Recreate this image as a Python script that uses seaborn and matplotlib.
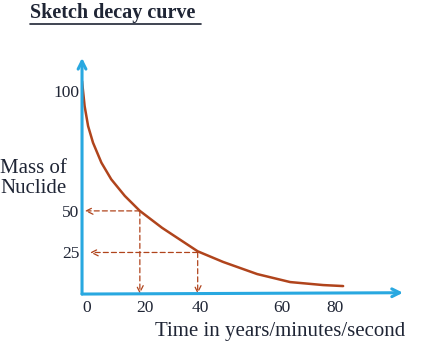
import matplotlib
matplotlib.use("Agg")
import matplotlib.pyplot as plt
from matplotlib.lines import Line2D
import pandas as pd
import seaborn as sns

# decay curve (time, remaining mass)
decay_time = [0, 0.9, 2.1, 3.8, 6.7, 10.1, 14.8, 20, 27.7, 40, 48.8, 60.6, 72, 83.4, 90.3]
decay_mass = [128, 113, 101, 91, 79, 69, 59, 50, 39.8, 25.7, 19.3, 12, 7.2, 5.4, 4.8]

# half-life read-offs
half_time = [20, 40]
half_mass = [50, 25]

x_tick_labels = ["0", "20", "40", "60", "80"]
y_tick_labels = ["25", "50", "100"]

title = "Sketch decay curve"
x_label = "Time in years/minutes/second"
y_label = "Mass of\nNuclide"

AXIS_BLUE = "#29a8e0"
CURVE_RED = "#b0441c"
TEXT_DARK = "#1f2535"

sns.set_theme(style="white")
plt.rcParams["font.family"] = ["Liberation Serif", "DejaVu Serif"]

df = pd.DataFrame({"time": decay_time, "mass": decay_mass})

fig = plt.figure(figsize=(4.25, 3.53), dpi=100)
ax = fig.add_axes([0.193, 0.167, 0.762, 0.669])

sns.lineplot(data=df, x="time", y="mass", ax=ax, color=CURVE_RED, lw=1.8,
             sort=False, legend=False)

# dashed read-off lines with arrows towards the axes
for t, m, stop in zip(half_time, half_mass, [1.0, 2.8]):
    ax.annotate("", xy=(stop, m), xytext=(t, m),
                arrowprops=dict(arrowstyle="->", color=CURVE_RED, lw=0.9,
                                ls=(0, (4, 2.5)), shrinkA=0, shrinkB=0))
    ax.annotate("", xy=(t, 0.2), xytext=(t, m),
                arrowprops=dict(arrowstyle="->", color=CURVE_RED, lw=0.9,
                                ls=(0, (4, 2.5)), shrinkA=0, shrinkB=0))

ax.set_xlim(0, 112)
ax.set_ylim(0, 142)

# axes drawn as arrows
ax.annotate("", xy=(111, 0.8), xytext=(0, 0),
            arrowprops=dict(arrowstyle="->", color=AXIS_BLUE, lw=2.2,
                            shrinkA=0, shrinkB=0, mutation_scale=14))
ax.annotate("", xy=(0, 142), xytext=(0, 0),
            arrowprops=dict(arrowstyle="->", color=AXIS_BLUE, lw=2.2,
                            shrinkA=0, shrinkB=0, mutation_scale=14))
for s in ax.spines.values():
    s.set_visible(False)
ax.patch.set_visible(False)

# the sketch spaces its tick labels unevenly
ax.set_xticks([1.7, 21.8, 41, 69, 87.5], x_tick_labels)
ax.set_yticks([25, 50, 122], y_tick_labels)
ax.tick_params(axis="x", length=0, pad=4, labelsize=12.5, labelcolor=TEXT_DARK)
ax.tick_params(axis="y", length=0, pad=2, labelsize=12.5, labelcolor=TEXT_DARK)
ax.set_xlabel("")
ax.set_ylabel("")
ax.grid(False)

fig.text(0.365, 0.06, x_label, fontsize=15, color=TEXT_DARK, va="center", ha="left")
fig.text(0.0, 0.495, y_label, fontsize=15, color=TEXT_DARK, va="center", ha="left",
         linespacing=1.05)
fig.text(0.071, 0.962, title, fontsize=14.5, fontweight="bold", color=TEXT_DARK,
         va="center", ha="left")
fig.add_artist(Line2D([0.071, 0.472], [0.932, 0.932], color=TEXT_DARK, lw=1.2,
                      transform=fig.transFigure))

fig.savefig("out.png", dpi=100)
